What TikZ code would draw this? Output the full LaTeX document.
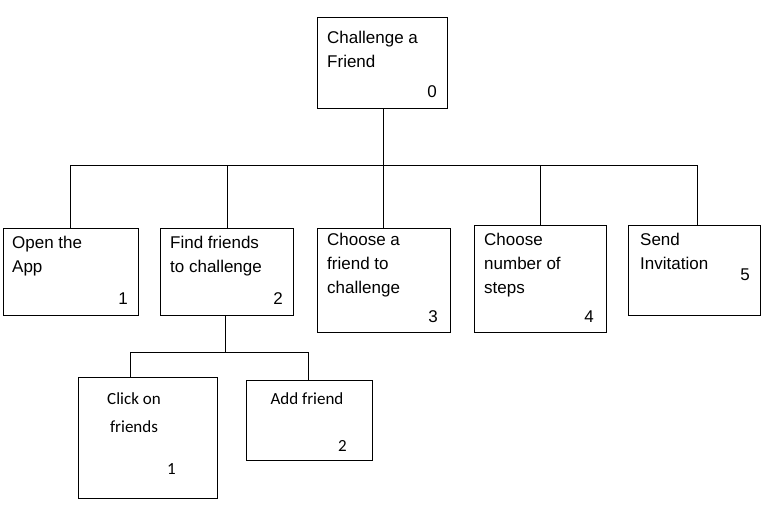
\documentclass[tikz,border=0pt]{standalone}
\usepackage{fontspec}
\setmainfont{Liberation Sans}
\newfontfamily\calib{Carlito}
\begin{document}
\begin{tikzpicture}[x=1pt,y=-1pt,
  box/.style={draw,line width=0.8pt,anchor=north west,inner sep=0pt},
  lbl/.style={anchor=north west,align=left,font=\fontsize{17}{24}\selectfont,inner sep=0pt},
  num/.style={anchor=base east,font=\fontsize{17}{20}\selectfont,inner sep=0pt},
  cl/.style={font=\calib\fontsize{17}{20}\selectfont,inner sep=0pt},
  ln/.style={line width=0.8pt}]
\useasboundingbox (0,0) rectangle (777,507);
\node[box,minimum width=130,minimum height=91] (r) at (317,17) {};
\node[lbl] (rt) at (327,31) {Challenge a\\Friend};
\node[num] (rn) at (437,97) {0};
\node[box,minimum width=135,minimum height=87] (b1) at (3,228) {};
\node[lbl] (b1t) at (12,236) {Open the\\App};
\node[num] (b1n) at (128,304) {1};
\node[box,minimum width=133,minimum height=87] (b2) at (160,228) {};
\node[lbl] (b2t) at (170,236) {Find friends\\to challenge};
\node[num] (b2n) at (283,304) {2};
\node[box,minimum width=133,minimum height=104] (b3) at (317,228) {};
\node[lbl] (b3t) at (327,233) {Choose a\\friend to\\challenge};
\node[num] (b3n) at (438,322) {3};
\node[box,minimum width=132,minimum height=107] (b4) at (474,225) {};
\node[lbl] (b4t) at (484,233) {Choose\\number of\\steps};
\node[num] (b4n) at (594,322) {4};
\node[box,minimum width=132,minimum height=90] (b5) at (628,225) {};
\node[lbl] (b5t) at (640,233) {Send\\Invitation};
\node[num] (b5n) at (750,280) {5};
\node[box,minimum width=139,minimum height=121] (c1) at (78,377) {};
\node[cl,anchor=north,align=center,font=\calib\fontsize{17}{28}\selectfont] (c1t) at (134,392) {Click on\\friends};
\node[cl,anchor=base east] (c1n) at (176,474) {1};
\node[box,minimum width=126,minimum height=80] (c2) at (246,380) {};
\node[cl,anchor=north,align=center] (c2t) at (307,392) {Add friend};
\node[cl,anchor=base east] (c2n) at (347,451) {2};
\draw[ln] (383,108) -- (383,165);
\draw[ln] (70,165) -- (697,165);
\draw[ln] (70,165) -- (70,228);
\draw[ln] (227,165) -- (227,228);
\draw[ln] (383,165) -- (383,228);
\draw[ln] (540,165) -- (540,225);
\draw[ln] (697,165) -- (697,225);
\draw[ln] (225,315) -- (225,352);
\draw[ln] (130,352) -- (308,352);
\draw[ln] (130,352) -- (130,377);
\draw[ln] (308,352) -- (308,380);
\end{tikzpicture}
\end{document}
